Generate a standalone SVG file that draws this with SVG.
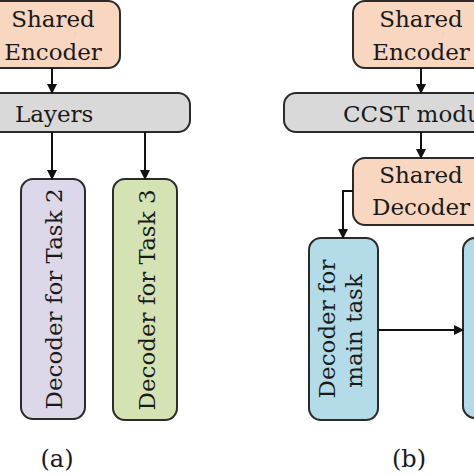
<svg xmlns="http://www.w3.org/2000/svg" width="474" height="474" viewBox="0 0 474 474">
<defs>
<marker id="ah" markerWidth="10" markerHeight="10" refX="9" refY="5" orient="auto" markerUnits="userSpaceOnUse">
<path d="M0,0 L10,5 L0,10 Z" fill="#111"/>
</marker>
<style>
.box{stroke:#2b2b2b;stroke-width:2}
.enc{fill:#f9d6c0}
.gray{fill:#d9d9d9}
.lav{fill:#dcd7e9}
.grn{fill:#d5e3b4}
.blu{fill:#b3dbe8}
.t{font-family:"DejaVu Serif","Liberation Serif",serif;font-size:23px;fill:#1a1a1a}
.c{text-anchor:middle}
.ln{stroke:#111;stroke-width:2;fill:none}
</style>
</defs>
<rect width="474" height="474" fill="#fff"/>
<g id="enc-a"><rect class="box enc" x="-20" y="1" width="140" height="67" rx="12"/>
<text class="t c" x="53" y="27">Shared</text><text class="t c" x="53" y="60">Encoder</text></g>
<g id="layers-a"><rect class="box gray" x="-20" y="93" width="210" height="39" rx="12"/>
<text class="t" x="15" y="122">Layers</text></g>
<g id="dec2-a"><rect class="box lav" x="21" y="179" width="64" height="240" rx="12"/>
<text class="t c" transform="translate(62,299) rotate(-90)">Decoder for Task 2</text></g>
<g id="dec3-a"><rect class="box grn" x="113" y="179" width="64" height="241" rx="12"/>
<text class="t c" transform="translate(155,300) rotate(-90)">Decoder for Task 3</text></g>
<g id="enc-b"><rect class="box enc" x="353" y="1" width="150" height="67" rx="12"/>
<text class="t c" x="421" y="27">Shared</text><text class="t c" x="421" y="60">Encoder</text></g>
<g id="ccst-b"><rect class="box gray" x="284" y="93" width="220" height="39" rx="12"/>
<text class="t" x="343" y="122">CCST module</text></g>
<g id="sdec-b"><rect class="box enc" x="353" y="158" width="150" height="67" rx="12"/>
<text class="t c" x="421" y="183">Shared</text><text class="t c" x="421" y="215">Decoder</text></g>
<g id="main-b"><rect class="box blu" x="309" y="238" width="69" height="182" rx="12"/>
<text class="t c" transform="translate(335,329) rotate(-90)">Decoder for</text>
<text class="t c" transform="translate(362,331) rotate(-90)">main task</text></g>
<g id="aux-b"><rect class="box blu" x="463" y="238" width="60" height="180" rx="12"/></g>
<g id="connectors">
<line class="ln" x1="52" y1="68" x2="52" y2="93" marker-end="url(#ah)"/>
<line class="ln" x1="52" y1="132" x2="52" y2="179" marker-end="url(#ah)"/>
<line class="ln" x1="145" y1="132" x2="145" y2="179" marker-end="url(#ah)"/>
<line class="ln" x1="421" y1="68" x2="421" y2="93" marker-end="url(#ah)"/>
<line class="ln" x1="421" y1="132" x2="421" y2="158" marker-end="url(#ah)"/>
<polyline class="ln" points="353,191 343,191 343,238" marker-end="url(#ah)"/>
<line class="ln" x1="378" y1="330" x2="463" y2="330" marker-end="url(#ah)"/>
</g>
<text class="t c" x="57" y="467" style="font-size:24px">(a)</text>
<text class="t c" x="409" y="467" style="font-size:24px">(b)</text>
</svg>
